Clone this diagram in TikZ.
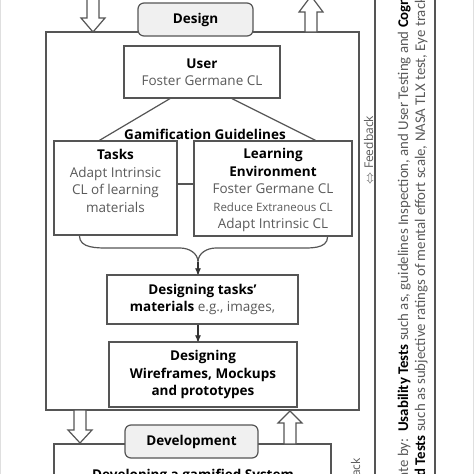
\documentclass[tikz,border=0pt]{standalone}
\usepackage{fontspec}
\setmainfont{Open Sans}
\newfontfamily\evalfont{Carlito}
\usetikzlibrary{calc}
\usetikzlibrary{arrows}
\definecolor{linegray}{HTML}{555555}
\definecolor{txtgray}{HTML}{5A5A5A}
\definecolor{boxfill}{HTML}{F0F0F0}
\newcommand{\bk}[1]{\textcolor{black}{\textbf{#1}}}
\tikzset{
 box/.style={draw=linegray, line width=1.2pt, fill=white, inner sep=0pt},
 roundbox/.style={box, rounded corners=6pt, fill=boxfill, font=\bfseries\fontsize{13.5}{16}\selectfont},
 txt/.style={align=center, inner sep=0pt, text=txtgray, font=\fontsize{13.5}{17.5}\selectfont},
 conn/.style={draw=linegray, line width=1.2pt},
 hollow/.style={draw=linegray, line width=1.2pt, fill=white},
 fbtxt/.style={inner sep=0pt, text=txtgray, font=\fontsize{12}{14}\selectfont},
 evaltxt/.style={inner sep=0pt, text=txtgray, font=\evalfont\fontsize{14.8}{16}\selectfont},
}
\begin{document}
\begin{tikzpicture}[x=1pt, y=-1pt]
\useasboundingbox (0,0) rectangle (474,474);
\clip (0,0) rectangle (474,474);
\draw[gray!25, line width=2pt] (0,0) -- (0,474);
\draw[gray!25, line width=1pt] (473.5,0) -- (473.5,474);
\node[box, minimum width=313, minimum height=378] (design) at (202.5,221) {};
\node[box, minimum width=277, minimum height=80] (devel) at (192.5,484) {};
\draw[linegray, line width=1.4pt] (375,-5) -- (375,480);
\draw[linegray, line width=1.4pt] (435,-5) -- (435,480);
\foreach \cx/\ya/\yb/\yc in {93/-4/18/32, 311/32/12/-4, 80/410/430/443, 290/444/423/411}
 \draw[hollow] (\cx-6,\ya) -- (\cx-6,\yb) -- (\cx-12,\yb) -- (\cx,\yc) -- (\cx+12,\yb) -- (\cx+6,\yb) -- (\cx+6,\ya) -- cycle;
\node[roundbox, minimum width=115, minimum height=33] (designlbl) at (195.5,19.5) {Design};
\node[roundbox, minimum width=133, minimum height=33] (devlbl) at (191.5,441.5) {Development};
\node[box, txt, minimum width=156, minimum height=52] (user) at (202,72) {\bk{User}\\ Foster Germane CL};
\node[box, minimum width=123, minimum height=94] (tasks) at (115.5,188) {};
\node[txt, anchor=north] (taskstxt) at ([yshift=-9pt]tasks.north) {\bk{Tasks}\\ Adapt Intrinsic\\ CL of learning\\ materials};
\node[box, minimum width=158, minimum height=95] (learn) at (273,188.5) {};
\node[txt, anchor=north] (learntxt) at ([yshift=-8pt]learn.north) {\bk{Learning}\\ \bk{Environment}\\ Foster Germane CL\\ {\fontsize{11.5}{14}\selectfont Reduce Extraneous CL}\\ Adapt Intrinsic CL};
\node[txt, text=black, font=\bfseries\fontsize{13.5}{16}\selectfont] (guide) at (205,134) {Gamification Guidelines};
\draw[conn] ([xshift=-32pt]user.south) -- ([xshift=46pt]tasks.north west);
\draw[conn] ([xshift=30pt]user.south) -- ([xshift=-37pt]learn.north east);
\draw[conn] ([yshift=4pt]tasks.east) -- ([yshift=4pt]tasks.east -| learn.west);
\coordinate (bracetip) at (198,262);
\draw[conn] ([xshift=26pt]tasks.south west) to[out=-90,in=180] (110,248) -- (180,248) to[out=0,in=90] (bracetip) to[out=90,in=180] (216,248) -- (297,248) to[out=0,in=-90] ([xshift=-25pt]learn.south east);
\node[box, txt, minimum width=191, minimum height=49] (mat) at (202.5,299.5) {\bk{Designing tasks'}\\ \bk{materials} e.g., images,};
\node[box, txt, minimum width=188, minimum height=65] (wire) at (203,374.5) {\bk{Designing}\\ \bk{Wireframes, Mockups}\\ \bk{and prototypes}};
\draw[conn, draw=black!80, -stealth'] (bracetip) -- (bracetip |- mat.north);
\draw[conn, draw=black!80, -stealth'] (mat.south -| bracetip) -- (wire.north -| bracetip);
\node[txt, text=black, font=\bfseries\fontsize{13.5}{16}\selectfont, anchor=base] (devtxt) at (193,479) {Developing a gamified System};
\node[fbtxt, rotate=90, anchor=base] (fb) at (373,150) {$\Leftrightarrow$ Feedback};
\node[fbtxt, rotate=90, anchor=base east] (fb2) at (360,458) {$\Leftrightarrow$ Feedback};
\node[evaltxt, rotate=90, anchor=base west] (eval1) at (408,432) {\llap{Evaluate by:\ \ }\bk{Usability Tests} such as, guidelines Inspection, and User Testing and \bk{Cognitive}};
\node[evaltxt, rotate=90, anchor=base west] (eval2) at (425,432) {\llap{\bk{Cognitive Load Tests}\ }such as subjective ratings of mental effort scale, NASA TLX test, Eye tracking};
\end{tikzpicture}
\end{document}
